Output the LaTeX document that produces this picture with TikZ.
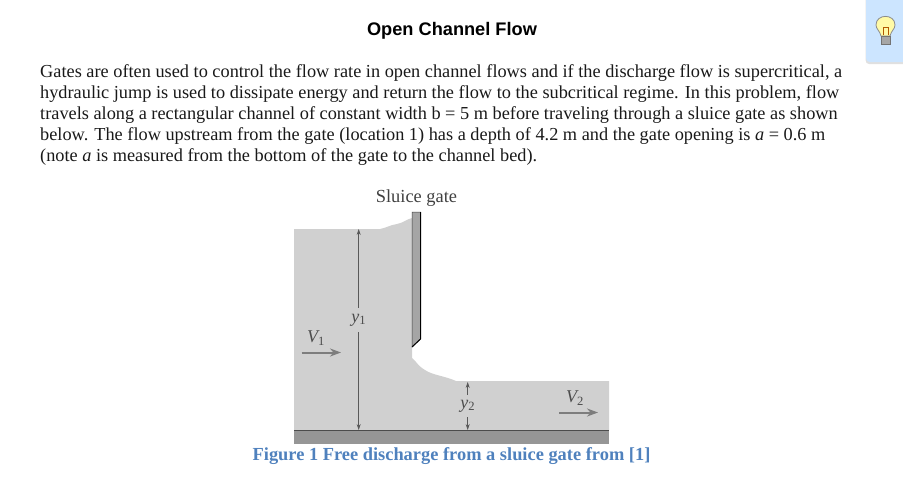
\documentclass[tikz,border=0pt]{standalone}
\usepackage{fontspec}
\setmainfont{Liberation Serif}
\newfontfamily\headfont{Liberation Sans}
\usepackage{tikz}
\usetikzlibrary{arrows.meta, positioning}
\definecolor{waterg}{RGB}{208, 208, 208}
\definecolor{bedg}{RGB}{150, 150, 150}
\definecolor{gateg}{RGB}{165, 165, 165}
\definecolor{arrowg}{RGB}{125, 125, 125}
\definecolor{capblue}{RGB}{79, 129, 189}
\definecolor{panelblue}{RGB}{204, 229, 255}
\newcommand{\subup}[1]{\textsubscript{\normalfont #1}}
\tikzset{
  bodyline/.style={anchor=base west, inner sep=0pt, font=\fontsize{18.3}{21}\selectfont, text=black!90},
  symbol/.style={inner sep=1pt, font=\fontsize{18}{20}\selectfont\itshape, text=black!70},
  dimline/.style={draw=black!65, line width=0.6pt, {Stealth[length=6pt,width=4pt]}-{Stealth[length=6pt,width=4pt]}},
  flowarrow/.style={draw=arrowg, line width=2pt, -{Stealth[length=11pt,width=8pt]}},
}
\begin{document}
\begin{tikzpicture}[x=1pt, y=-1pt]
  \useasboundingbox (0,0) rectangle (903,482);
  \node[inner sep=0pt, font=\fontsize{18.2}{20}\selectfont\headfont\bfseries] (title) at (452, 31) {Open Channel Flow};
  \node[bodyline] (line1) at (40, 77) {Gates are often used to control the flow rate in open channel flows and if the discharge flow is supercritical, a};
  \node[bodyline] (line2) at (40, 98) {hydraulic jump is used to dissipate energy and return the flow to the subcritical regime. In this problem, flow};
  \node[bodyline] (line3) at (40, 119) {travels along a rectangular channel of constant width b = 5 m before traveling through a sluice gate as shown};
  \node[bodyline] (line4) at (40, 140) {below. The flow upstream from the gate (location 1) has a depth of 4.2 m and the gate opening is \textit{a} = 0.6 m};
  \node[bodyline] (line5) at (40, 161) {(note \textit{a} is measured from the bottom of the gate to the channel bed).};
  % water and bed
  \fill[waterg] (294,229) -- (380,229) .. controls (386,228) and (390,225) .. (397,224)
    .. controls (403,223) and (407,219) .. (412,218) -- (412,358)
    .. controls (416,361) and (418,366) .. (425,370) .. controls (432,375) and (445,376) .. (456,381)
    -- (609,381) -- (609,430) -- (294,430) -- cycle;
  \fill[bedg] (294,430) rectangle (609,444);
  \draw[black!70, line width=0.8pt] (294,430) -- (609,430);
  % gate
  \filldraw[fill=gateg, draw=black!75, line width=0.5pt] (412,212) -- (420.5,212) -- (420.5,339) -- (412,347) -- cycle;
  \draw[black, line width=1pt] (420.5,212) -- (420.5,339) -- (412,347);
  \node[inner sep=0pt, font=\fontsize{18.4}{21}\selectfont, text=black!75] (gatelabel) at (416.5, 198) {Sluice gate};
  % depths
  \coordinate (y1top) at (358.7,229);
  \coordinate (y1bot) at (358.7,430);
  \coordinate (y2top) at (467.7,382);
  \coordinate (y2bot) at (467.7,430);
  \draw[dimline] (y1top) -- (y1bot);
  \draw[dimline] (y2top) -- (y2bot);
  \node[symbol, fill=waterg, minimum height=24pt] (y1) at (358.7,320) {y\subup{1}};
  \node[symbol, fill=waterg, minimum height=22pt] (y2) at (467.7,406) {y\subup{2}};
  % velocities
  \coordinate (v1tail) at (301.5,352.5);
  \coordinate (v1tip) at (341,352.5);
  \coordinate (v2tail) at (559,412.5);
  \coordinate (v2tip) at (598,412.5);
  \draw[flowarrow] (v1tail) -- (v1tip);
  \draw[flowarrow] (v2tail) -- (v2tip);
  \node[symbol] (v1) at (316,338) {V\subup{1}};
  \node[symbol] (v2) at (575,398) {V\subup{2}};
  \node[inner sep=0pt, font=\fontsize{18.4}{20}\selectfont\bfseries, text=capblue] (caption) at (451.5, 456.5) {Figure 1 Free discharge from a sluice gate from [1]};
  % hint panel
  \fill[black!12] (865.5,0) -- (865.5,60) .. controls (865.5,62.5) and (867,64) .. (869,64) -- (903,64) -- (903,0) -- cycle;
  \fill[panelblue] (866,0) -- (866,58) .. controls (866,60.5) and (867.5,62) .. (870,62) -- (903,62) -- (903,0) -- cycle;
  \filldraw[fill=yellow!35!white, draw=black!45, line width=0.8pt] (881,36) .. controls (880,31) and (876,29) .. (876,25)
    .. controls (876,13.5) and (895,13.5) .. (895,25) .. controls (895,29) and (891,31) .. (890,36) -- cycle;
  \filldraw[fill=black!35, draw=black!55, line width=0.6pt] (881,36) rectangle (890,44);
  \draw[orange!70!black, line width=0.7pt] (883,35) -- (883,27) -- (888,27) -- (888,35);
\end{tikzpicture}
\end{document}
